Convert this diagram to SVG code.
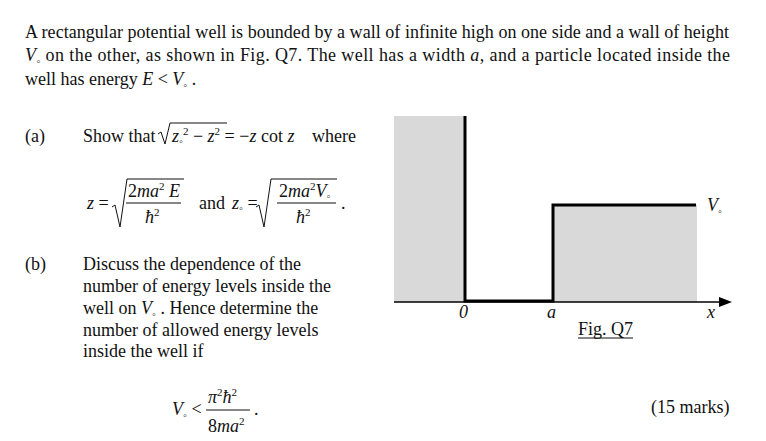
<svg xmlns="http://www.w3.org/2000/svg" width="766" height="441" viewBox="0 0 766 441">
<style>
text{font-family:"Liberation Serif","Times New Roman",serif;font-size:18px;fill:#111}
.i{font-style:italic}
.s{font-size:11px}
.k{stroke:#000;stroke-width:3;fill:none}
.t{stroke:#111;stroke-width:1;fill:none}
</style>
<rect width="766" height="441" fill="#fff"/>
<g id="intro">
<text x="25" y="38" textLength="704" lengthAdjust="spacing">A rectangular potential well is bounded by a wall of infinite high on one side and a wall of height</text>
<text x="25" y="61" textLength="705" lengthAdjust="spacing"><tspan class="i">V</tspan><tspan class="s" dy="4">◦</tspan><tspan dy="-4"> on the other, as shown in Fig. Q7. The well has a width </tspan><tspan class="i">a</tspan>, and a particle located inside the</text>
<text x="25" y="85">well has energy <tspan class="i">E</tspan> &lt; <tspan class="i">V</tspan><tspan class="s" dy="4">◦</tspan><tspan dy="-4"> .</tspan></text>
</g>
<g id="partA">
<text x="25" y="142">(a)</text>
<text x="83" y="142">Show that</text>
<path class="t" d="M158,134 l3,-2 l4,12 l5,-21 h57"/>
<text x="172" y="142" class="i">z<tspan class="s" dy="3">◦</tspan><tspan dy="-10" class="s" font-style="normal">2</tspan><tspan dy="7" font-style="normal"> − </tspan>z<tspan class="s" dy="-7" font-style="normal">2</tspan><tspan dy="7" font-style="normal"> = −</tspan>z<tspan font-style="normal"> cot </tspan>z</text>
<text x="312" y="142">where</text>
<text x="87" y="209" class="i">z<tspan font-style="normal"> =</tspan></text>
<path class="t" d="M112,207 l3,-2 l5,22 l7,-48 h57"/>
<line class="t" x1="126" y1="203" x2="181" y2="203"/>
<text x="128" y="197"><tspan>2</tspan><tspan class="i">ma</tspan><tspan class="s" dy="-7">2</tspan><tspan class="i" dy="7"> E</tspan></text>
<text x="145" y="223" class="i">ħ<tspan class="s" dy="-7" font-style="normal">2</tspan></text>
<text x="199" y="209">and</text>
<text x="232" y="209" class="i">z<tspan class="s" dy="3" font-style="normal">◦</tspan><tspan dy="-3" font-style="normal"> =</tspan></text>
<path class="t" d="M256,207 l3,-2 l5,22 l7,-48 h66"/>
<line class="t" x1="277" y1="203" x2="336" y2="203"/>
<text x="279" y="197"><tspan>2</tspan><tspan class="i">ma</tspan><tspan class="s" dy="-7">2</tspan><tspan class="i" dy="7">V</tspan><tspan class="s" dy="3">◦</tspan></text>
<text x="296" y="223" class="i">ħ<tspan class="s" dy="-7" font-style="normal">2</tspan></text>
<text x="341" y="209">.</text>
</g>
<g id="partB">
<text x="25" y="270">(b)</text>
<text x="83" y="270">Discuss the dependence of the</text>
<text x="83" y="292">number of energy levels inside the</text>
<text x="83" y="314">well on <tspan class="i">V</tspan><tspan class="s" dy="4">◦</tspan><tspan dy="-4"> . Hence determine the</tspan></text>
<text x="83" y="336">number of allowed energy levels</text>
<text x="83" y="357">inside the well if</text>
<text x="172" y="415" class="i">V<tspan class="s" dy="4" font-style="normal">◦</tspan><tspan dy="-4" font-style="normal"> &lt;</tspan></text>
<line class="t" x1="206" y1="410" x2="250" y2="410"/>
<text x="208" y="403" class="i">π<tspan class="s" dy="-7" font-style="normal">2</tspan><tspan dy="7">ħ</tspan><tspan class="s" dy="-7" font-style="normal">2</tspan></text>
<text x="208" y="432"><tspan>8</tspan><tspan class="i">ma</tspan><tspan class="s" dy="-7">2</tspan></text>
<text x="254" y="415">.</text>
<text x="651" y="413">(15 marks)</text>
</g>
<g id="figure">
<rect x="394" y="116" width="71" height="186" fill="#d9d9d9"/>
<rect x="553" y="205" width="144" height="97" fill="#d9d9d9"/>
<line x1="394" y1="302" x2="722" y2="302" stroke="#000" stroke-width="1.5"/>
<polygon points="732,302 719,297 719,307" fill="#000"/>
<path class="k" d="M465,116 V301 H553 V205 H696"/>
<text x="459" y="318" class="i">0</text>
<text x="547" y="318" class="i">a</text>
<text x="707" y="318" class="i">x</text>
<text x="707" y="211" class="i">V<tspan class="s" dy="4" font-style="normal">◦</tspan></text>
<text x="578" y="335">Fig. Q7</text>
<line x1="578" y1="338" x2="633" y2="338" stroke="#111" stroke-width="1"/>
</g>
</svg>
